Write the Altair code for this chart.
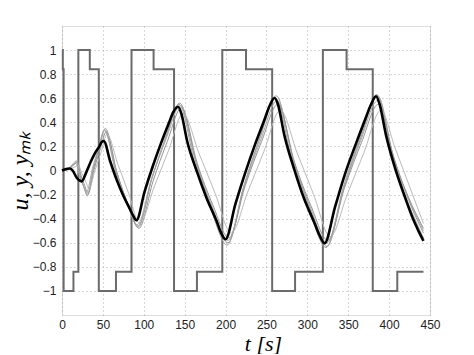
import altair as alt
import pandas as pd

# input signal u (step changes)
u_t = [0, 1, 2, 14, 20, 34, 45, 66, 85, 112, 137, 165, 196, 225, 257, 285, 319, 348, 380, 410, 442]
u_v = [1, 0.84, -1, -0.84, 1, 0.84, -1, -0.84, 1, 0.84, -1, -0.84, 1, 0.84, -1, -0.84, 1, 0.84, -1, -0.84, -0.84]

# measured output y (black)
y_t = [0, 4, 9, 13, 18, 24, 30, 35, 40, 46, 48, 51, 59, 67, 75, 83, 87, 91, 101, 111,
       121, 131, 136, 142, 146, 153, 165, 177, 189, 194, 200, 212, 224, 236, 248, 254,
       260, 264, 272, 284, 296, 309, 315, 321, 334, 346, 359, 371, 378, 384, 388, 396,
       407, 419, 430, 436, 442]
y_v = [0, 0.01, 0.016, 0.0, -0.06, -0.09, -0.009, 0.07, 0.14, 0.205, 0.232, 0.245,
       0.075, -0.08, -0.21, -0.32, -0.375, -0.413, -0.175, 0.035, 0.225, 0.40, 0.485,
       0.53, 0.47, 0.245, -0.01, -0.232, -0.42, -0.51, -0.571, -0.28, -0.02, 0.215,
       0.43, 0.54, 0.602, 0.55, 0.29, 0.01, -0.233, -0.44, -0.54, -0.604, -0.30,
       -0.03, 0.215, 0.43, 0.55, 0.616, 0.56, 0.30, 0.025, -0.215, -0.414, -0.503, -0.585]

# model outputs y_mk (gray)
g1_t = [0, 5, 10, 14, 18, 22.3, 26.7, 31, 38.3, 45.7, 53, 66.3, 79.7, 93, 110, 127, 144,
        163.7, 183.3, 203, 222.7, 242.3, 262, 282.7, 303.3, 324, 344.7, 365.3, 386, 404.7, 423.3, 442]
g1_v = [0, 0.005, 0.03, 0.06, 0.08, -0.043, -0.138, -0.21, 0.008, 0.193, 0.35, 0.001, -0.265,
        -0.47, -0.068, 0.272, 0.56, 0.067, -0.31, -0.60, -0.124, 0.278, 0.62, 0.089, -0.318,
        -0.63, -0.143, 0.27, 0.62, 0.136, -0.235, -0.52]

g2_t = [0, 5, 9, 13, 17, 21.3, 25.7, 30, 37.3, 44.7, 52, 65.3, 78.7, 92, 109.7, 127.3, 145,
        164.3, 183.7, 203, 223, 243, 263, 283.3, 303.7, 324, 344.7, 365.3, 386, 404.7, 423.3, 442]
g2_v = [0, 0.004, 0.02, 0.045, 0.06, -0.042, -0.12, -0.18, 0.019, 0.187, 0.33, -0.002, -0.255,
        -0.45, -0.064, 0.263, 0.54, 0.064, -0.30, -0.58, -0.128, 0.255, 0.58, 0.079, -0.305,
        -0.60, -0.14, 0.25, 0.58, 0.121, -0.23, -0.50]

g3_t = [0, 5, 10, 15, 19, 23.3, 27.7, 32, 39.3, 46.7, 54, 67.3, 80.7, 94, 111.3, 128.7, 146,
        165.3, 184.7, 204, 224, 244, 264, 284.3, 304.7, 325, 345.7, 366.3, 387, 405.3, 423.7, 442]
g3_v = [0, 0.003, 0.02, 0.05, 0.07, -0.04, -0.125, -0.19, 0.009, 0.177, 0.32, -0.02, -0.28,
        -0.48, -0.09, 0.24, 0.52, 0.061, -0.29, -0.56, -0.127, 0.24, 0.55, 0.07, -0.2975,
        -0.58, -0.139, 0.234, 0.55, 0.112, -0.2225, -0.48]

g4_t = [0, 6, 11, 16, 20, 24.3, 28.7, 33, 40.3, 47.7, 55, 68.3, 81.7, 95, 112.7, 130.3, 148,
        167.7, 187.3, 207, 227, 247, 267, 287.3, 307.7, 328, 348.7, 369.3, 390, 407.3, 424.7, 442]
g4_v = [0, 0.003, 0.015, 0.03, 0.04, -0.023, -0.087, -0.15, 0.0, 0.15, 0.30, 0.053, -0.193,
        -0.44, -0.137, 0.167, 0.47, 0.14, -0.19, -0.52, -0.18, 0.16, 0.50, 0.15, -0.2,
        -0.55, -0.2, 0.15, 0.50, 0.187, -0.127, -0.44]

g5_t = [0, 5, 10, 14, 18, 22.3, 26.7, 31, 38, 45, 52, 65.7, 79.3, 93, 109.7, 126.3, 143,
        162.7, 182.3, 202, 221.7, 241.3, 261, 281.7, 302.3, 323, 343.7, 364.3, 385, 404, 423, 442]
g5_v = [0, 0.004, 0.025, 0.05, 0.07, -0.045, -0.1325, -0.20, 0.01, 0.189, 0.34, 0.0, -0.26,
        -0.46, -0.066, 0.267, 0.55, 0.053, -0.3275, -0.62, -0.144, 0.258, 0.60, 0.073, -0.33,
        -0.64, -0.145, 0.274, 0.63, 0.124, -0.2625, -0.56]

gray_names = ["m1", "m2", "m3", "m4", "m5"]
gray_colors = ["#9a9a9a", "#a8a8a8", "#939393", "#bababa", "#a2a2a2"]

x_ticks = [0, 50, 100, 150, 200, 250, 300, 350, 400, 450]
y_ticks = [-1, -0.8, -0.6, -0.4, -0.2, 0, 0.2, 0.4, 0.6, 0.8, 1]

df_u = pd.DataFrame({"t": u_t, "v": u_v})
df_y = pd.DataFrame({"t": y_t, "v": y_v})
frames = []
for name, ts, vs in zip(gray_names, [g1_t, g2_t, g3_t, g4_t, g5_t], [g1_v, g2_v, g3_v, g4_v, g5_v]):
    frames.append(pd.DataFrame({"t": ts, "v": vs, "s": name}))
df_g = pd.concat(frames, ignore_index=True)

x_enc = alt.X("t:Q", scale=alt.Scale(domain=[0, 450], nice=False, zero=False),
              axis=alt.Axis(values=x_ticks, title="t [s]", grid=True, gridDash=[1, 3],
                            gridColor="#9a9a9a", gridWidth=0.8, ticks=False, domain=False,
                            labelFont="Liberation Sans", labelFontSize=12, labelColor="#222",
                            labelPadding=4, titleFont="Liberation Serif", titleFontSize=22,
                            titleFontStyle="italic", titleFontWeight="normal", titlePadding=3,
                            titleX=201, titleColor="#000", labelFlush=False))
y_enc = alt.Y("v:Q", scale=alt.Scale(domain=[-1.2, 1.2], nice=False, zero=False),
              axis=alt.Axis(values=y_ticks, format="~g", title="u,  y,  yₘₖ", grid=True,
                            gridDash=[1, 3], gridColor="#9a9a9a", gridWidth=0.8, ticks=False,
                            domain=False, labelFont="Liberation Sans", labelFontSize=12,
                            labelColor="#222", labelPadding=6, titleFont="Liberation Serif",
                            titleFontSize=24, titleFontStyle="italic", titleFontWeight="normal",
                            titlePadding=0, titleColor="#000"))

u_line = alt.Chart(df_u).mark_line(interpolate="step-after", color="#6b6b6b", strokeWidth=2).encode(
    x=x_enc, y=y_enc)
g_lines = alt.Chart(df_g).mark_line(interpolate="monotone", strokeWidth=1).encode(
    x=x_enc, y=y_enc,
    color=alt.Color("s:N", scale=alt.Scale(domain=gray_names, range=gray_colors), legend=None))
y_line = alt.Chart(df_y).mark_line(interpolate="monotone", color="#000000", strokeWidth=2.6).encode(
    x=x_enc, y=y_enc)

chart = alt.layer(u_line, g_lines, y_line).properties(
    width=368, height=289, padding={"left": 0, "top": 18, "right": 5, "bottom": 0}
).configure_view(stroke="#000", strokeWidth=1.2).configure(background="white")

chart.save("out.html", embed_options={"renderer": "svg", "actions": False})
